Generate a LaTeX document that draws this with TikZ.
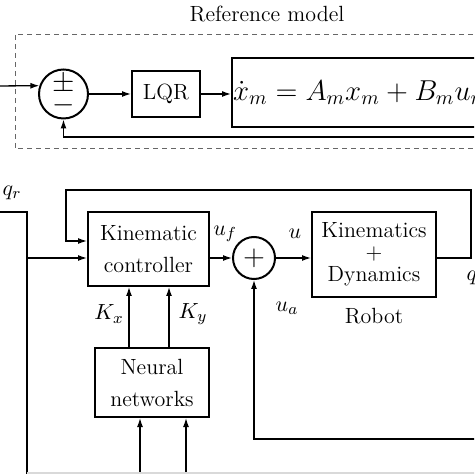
\documentclass[tikz,border=0pt]{standalone}
\usetikzlibrary{arrows.meta}
\begin{document}
\begin{tikzpicture}[
        x=0.5pt, y=-0.5pt,
        font=\fontsize{11}{16}\selectfont,
        block/.style={draw, line width=1pt, align=center, inner sep=1pt},
        sumnode/.style={draw, circle, line width=1pt, inner sep=0pt},
        arrow/.style={-{Latex[length=4.5pt,width=3pt]}, line width=0.65pt},
        line/.style={line width=0.65pt}
    ]
        \clip (0,0) rectangle (474,474);
        \useasboundingbox (0,0) rectangle (474,474);
        % Reference model
        \node (reftitle) at (267,14) {Reference model};
        \draw[line width=0.5pt, gray!80!black, dash pattern=on 2.5pt off 2pt] (15,35) rectangle (490,149);
        \node[sumnode, minimum size=24.5pt] (sumref) at (63.5,94) {};
        \node[font=\fontsize{14}{14}\selectfont] (pm) at (63.5,84) {$\pm$};
        \node[font=\fontsize{14}{14}\selectfont] (mi) at (63.5,105) {$-$};
        \node[block, minimum width=34pt, minimum height=23pt] (lqr) at (166,94) {LQR};
        \node[block, anchor=west, minimum height=34.5pt, text width=135pt, inner xsep=0.5pt, align=left,
            font=\fontsize{14}{16}\selectfont] (model) at (231,92.5) {$\dot{x}_m = A_m x_m + B_m u_m$};
        \coordinate (refin) at (-5,86);
        \coordinate (modelout) at (490,137);
        \draw[arrow] (refin) -- (sumref.161);
        \draw[arrow] (sumref) -- (lqr);
        \draw[arrow] (lqr) -- (model.west |- lqr);
        \draw[arrow] (modelout) -- (63.5,137) -- (sumref.south);
        % Robot loop
        \node[block, minimum width=60.5pt, minimum height=37pt] (ctrl) at (148.5,249) {Kinematic\\controller};
        \node[sumnode, minimum size=21pt, font=\fontsize{14}{14}\selectfont] (sumu) at (254,258) {$+$};
        \node[block, minimum width=62pt, minimum height=42.5pt, font=\fontsize{11}{11}\selectfont]
            (robot) at (374,254.5) {Kinematics\\+\\Dynamics};
        \node (robotlabel) at (374,316) {Robot};
        \node[block, minimum width=57pt, minimum height=34.5pt] (nn) at (152,382.5) {Neural\\networks};
        \node (qr) at (12,193) {$q_r$};
        \node (uf) at (225,234) {$u_f$};
        \node (u) at (295,234) {$u$};
        \node (ua) at (287,308) {$u_a$};
        \node (kx) at (109,314) {$K_x$};
        \node (ky) at (193,314) {$K_y$};
        \node (q) at (472,278) {$q$};
        \coordinate (qrin) at (-5,212);
        \coordinate (qrdown) at (27,490);
        \coordinate (uain) at (490,439);
        \coordinate (nnin1) at (140,490);
        \coordinate (nnin2) at (186,490);
        \draw[line] (qrin) -- (27,212) -- (qrdown);
        \draw[arrow] (27,258) -- (ctrl.west |- 0,258);
        \draw[arrow] (ctrl.east |- sumu) -- (sumu);
        \draw[arrow] (sumu) -- (robot.west |- sumu);
        \draw[arrow] (robot.east |- sumu) -- (471,258) -- (471,190) -- (66,190) -- (66,241) -- (ctrl.west |- 0,241);
        \draw[arrow] (uain) -- (254,439) -- (sumu.south);
        \draw[arrow] (nn.north -| 129,0) -- (ctrl.south -| 129,0);
        \draw[arrow] (nn.north -| 169,0) -- (ctrl.south -| 169,0);
        \draw[arrow] (nnin1) -- (nnin1 |- nn.south);
        \draw[arrow] (nnin2) -- (nnin2 |- nn.south);
        \draw[gray!30, line width=1.5pt] (27,473.5) -- (480,473.5);
    \end{tikzpicture}
\end{document}
